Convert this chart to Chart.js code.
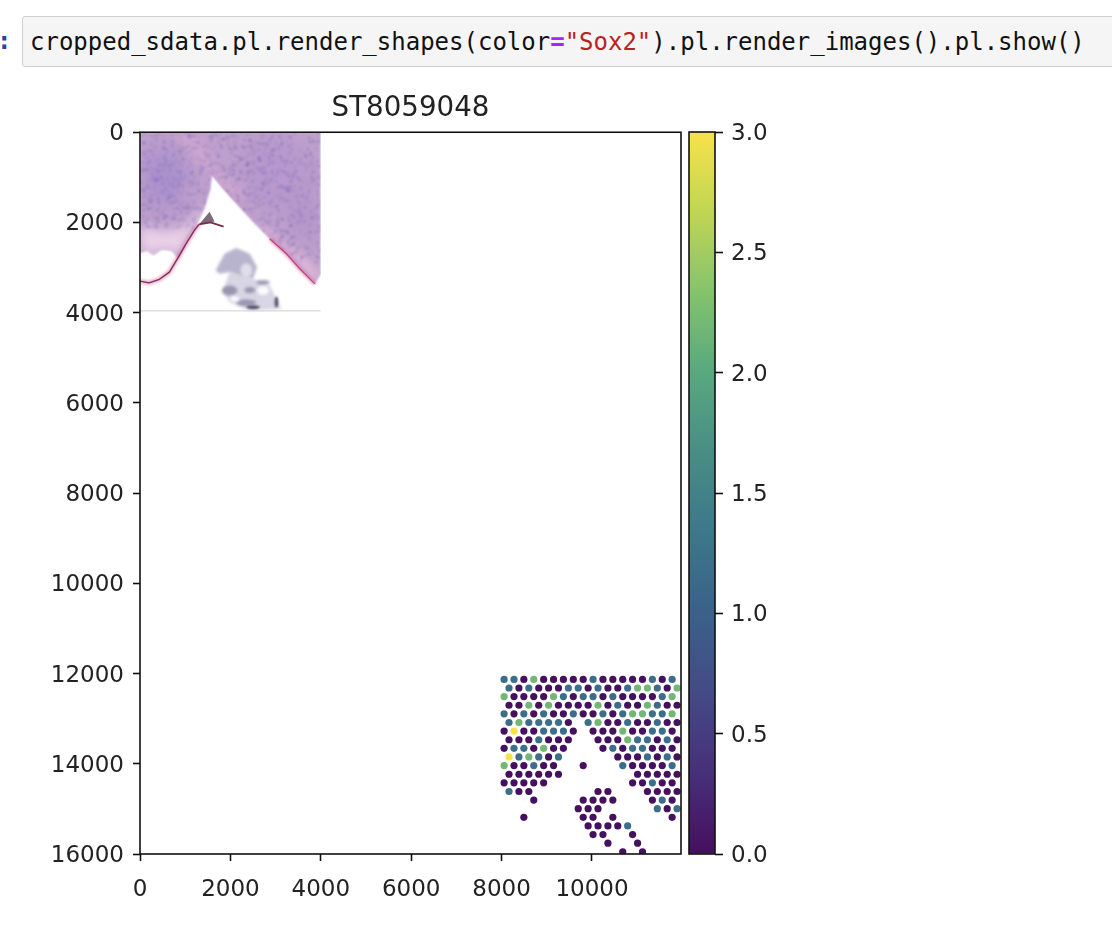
<!DOCTYPE html>
<html><head><meta charset="utf-8">
<script src="https://cdn.jsdelivr.net/npm/chart.js@4"></script>
<style>
html,body{margin:0;padding:0;background:#fff;width:1112px;height:928px;overflow:hidden}
canvas{position:absolute;left:0;top:0;filter:blur(.35px)}
#prompt{position:absolute;left:-3px;top:26px;font:bold 24px/30px "DejaVu Sans Mono",monospace;color:#303f9f}
#cell{position:absolute;left:22px;top:16px;width:1100px;height:51px;box-sizing:border-box;background:#f5f5f5;border:1.5px solid #cfcfcf;border-radius:3px;
font:24px/50px "DejaVu Sans Mono",monospace;color:#111;padding-left:7px;white-space:pre}
#cell .o{color:#aa22ff;font-weight:bold}#cell .s{color:#ba2121}
</style></head><body>
<div id="prompt">:</div>
<div id="cell">cropped_sdata.pl.render_shapes(color<span class="o">=</span><span class="s">"Sox2"</span>).pl.render_images().pl.show()</div>
<canvas id="main" width="1112" height="928"></canvas>
<canvas id="bar" width="1112" height="928"></canvas>
<script>
const chartTitle = "ST8059048";
const xTicks = [0,2000,4000,6000,8000,10000];
const yTicks = [0,2000,4000,6000,8000,10000,12000,14000,16000];
const barTicks = [0,0.5,1,1.5,2,2.5,3];
const viridis = ["#45105e","#472f79","#444a85","#3a6189","#3d778a","#488d85","#58a87f","#84c36c","#c0d553","#f7e24a"];

// spot columns (half-step grid) and rows, in image units
const spotX = [8056,8165,8275,8384,8493,8603,8712,8822,8931,9040,9150,9259,9368,9478,9587,9696,9806,9915,10024,10134,10243,10353,10462,10571,10681,10790,10899,11009,11118,11227,11337,11446,11555,11665,11774,11883];
const spotY = [12129,12320,12511,12702,12893,13085,13276,13467,13658,13849,14040,14232,14423,14614,14805,14996,15187,15378,15570,15761,15952];
const n = null;
const sox2Rows = [
[1.2,1.2,0,2.2,0,0,0,0,0,1.2,0,0,0,0,0,1.2,0,1.2],
[1.2,0,1.2,0,0,0,1.2,1.2,0,1.2,0,0,1.2,2.2,2.2,1.2,0,2.2],
[2.2,0,0,0,0,2.2,1.2,0,1.2,1.2,0,1.2,0,0,0,0,1.2,2.2],
[0,0,2.2,0,2.2,0,0,0,0,2.2,0,1.2,0,0,2.2,1.2,0,0],
[1.2,0,1.2,0,1.2,0,0,1.2,0,0,1.2,0,1.2,2.2,2.2,1.2,1.2,2.2],
[1.2,2.2,1.2,1.2,1.2,1.2,0,n,1.2,2.2,0,0,1.2,0,0,1.2,0,0],
[0,3,0,0,1.2,1.2,1.2,0,n,0,0,0,2.2,0,0,1.2,1.2,0],
[0,0,0,1.2,0,0,0,n,n,0,0,0,2.2,1.2,1.2,0,1.2,0],
[0,1.2,1.2,0,2.2,0,0,n,n,n,0,1.2,0,1.2,1.2,0,0,0],
[3,1.2,2.2,1.2,0,1.2,n,n,n,n,n,0,0,0,1.2,0,1.2,0],
[2.2,0,0,1.2,0,0,n,n,0,n,n,n,1.2,0,0,0,0,1.2],
[0,0,0,0,0,0,n,n,n,n,n,n,n,0,0,0,0,0],
[0,0,0,0,0,n,n,n,n,n,n,n,n,0,0,1.2,0,0],
[1.2,0,0,n,n,n,n,n,n,0,0,n,n,n,0,0,0,0],
[n,n,n,0,n,n,n,n,0,0,0,0,n,n,n,0,1.2,0],
[n,n,n,n,n,n,n,0,0,0,n,n,n,n,n,1.2,0,1.2],
[n,n,0,n,n,n,n,n,0,0,n,0,n,n,n,n,n,0],
[n,n,n,n,n,n,n,n,0,0,0,0,1.2,n,n,n,n,n],
[n,n,n,n,n,n,n,n,n,0,0,n,n,0,n,n,n,n],
[n,n,n,n,n,n,n,n,n,n,0,n,n,0,n,n,n,n],
[n,n,n,n,n,n,n,n,n,n,n,n,0,n,0,n,n,n]
];

// tissue picture outlines, in image units
const tissueOutline = [[0,0],[4000,0],[4000,3138],[3870,3360],[3537,3027],[3241,2694],[2871,2361],[2501,1991],[2131,1584],[1835,1251],[1591,955],[1561,1251],[1428,1695],[1206,2139],[1021,2435],[850,2800],[700,2620],[480,2600],[300,2720],[150,2620],[0,2680]];
const wedgeOutline = [[720,0],[1300,740],[1591,955],[2131,1584],[2300,1500],[2300,1250],[1650,800],[1550,550],[1250,0]];
const paleOutline = [[0,2050],[500,2200],[1000,2100],[1428,1600],[1428,1695],[1206,2139],[1021,2435],[850,2800],[700,2620],[480,2600],[300,2720],[150,2620],[0,2680]];
const rimRightOutline = [[2500,1980],[2871,2361],[3241,2694],[3537,3027],[3870,3360],[4000,3138],[3700,2800],[3250,2480],[2800,2130]];
const edgeLeft = [[0,3300],[200,3340],[430,3260],[650,3100],[830,2800],[1021,2470],[1206,2170],[1310,2040]];
const edgeBranch = [[1310,2040],[1560,2000],[1850,2090]];
const edgeTop = [[1310,2040],[1540,1760],[1650,1980]];
const edgeRight = [[2871,2361],[3241,2694],[3537,3027],[3870,3360]];
const blobLace = [[1983,3100],[2501,3249],[2870,3400],[3130,3915],[2430,3950],[1990,3770],[1840,3550],[1910,3300]];
const blobUpper = [[1672,3064],[1872,2694],[2131,2568],[2427,2694],[2590,2990],[2501,3249],[2205,3175],[1983,3100],[1761,3138]];
const blobPale = [[2353,3064,130,160]];
const blobLumps = [[1983,3508,170,110],[2430,3500,120,70],[2723,3330,150,50],[2350,3780,220,70]];
const blobHoles = [[2094,3693,100,60],[2723,3508,130,100]];
const blobDark = [[2501,3878,150,45],[3019,3767,40,120]];
const imageBase = 3960;

function viridisAt(v){
  const t = Math.max(0,Math.min(1,v/3))*(viridis.length-1);
  const i = Math.min(Math.floor(t),viridis.length-2), f=t-i;
  const h = c=>[1,3,5].map(k=>parseInt(c.substr(k,2),16));
  const a=h(viridis[i]), b=h(viridis[i+1]);
  return `rgb(${a.map((q,k)=>Math.round(q+(b[k]-q)*f)).join(",")})`;
}

const spots = [];
sox2Rows.forEach((row,r)=>row.forEach((v,k)=>{
  if(v!==null) spots.push({x:spotX[2*k+(r%2)],y:spotY[r],v});
}));

const frame = {id:"frame",afterDraw(c){
  const a=c.chartArea,g=c.ctx;g.save();g.strokeStyle="#111";g.lineWidth=1.6;
  g.strokeRect(a.left,a.top,a.width,a.height);g.restore();
}};

const tissue = {id:"tissue",beforeDatasetsDraw(c){
  const g=c.ctx,X=c.scales.x,Y=c.scales.y;
  const px=x=>X.getPixelForValue(x),py=y=>Y.getPixelForValue(y);
  const path=o=>{g.beginPath();o.forEach((p,i)=>i?g.lineTo(px(p[0]),py(p[1])):g.moveTo(px(p[0]),py(p[1])));};
  const ell=(e,col)=>{g.fillStyle=col;g.beginPath();g.ellipse(px(e[0]),py(e[1]),e[2]*.045,e[3]*.045,0,0,7);g.fill();};
  g.save();
  g.beginPath();g.rect(px(0),py(0),px(4000)-px(0),py(4000)-py(0));g.clip();
  g.filter="blur(1.2px)";
  path(tissueOutline);g.closePath();g.fillStyle="#c0a0cd";g.fill();
  g.save();path(tissueOutline);g.closePath();g.clip();
  g.filter="blur(10px)";
  [[550,1000,500,700,"rgba(150,130,205,.5)"],[3000,900,800,800,"rgba(165,135,205,.3)"],[3650,1900,300,500,"rgba(155,130,200,.35)"]].forEach(e=>ell(e,e[4]));
  g.filter="blur(4px)";
  path(wedgeOutline);g.closePath();g.fillStyle="#cca6d0";g.fill();
  g.filter="blur(6px)";
  path(paleOutline);g.closePath();g.fillStyle="#ead2e8";g.fill();
  g.filter="blur(4px)";
  path(rimRightOutline);g.closePath();g.fillStyle="#dcb6d8";g.fill();
  g.filter="blur(.8px)";
  let seed=20240611;
  const next=()=>{seed=(seed*1664525+1013904223)%4294967296;return seed/4294967296;};
  for(let i=0;i<1500;i++){
    const a=next(),b=next(),s=next();
    if(b*2900>2150&&a*4000<1400)continue;
    g.fillStyle=`rgba(100,92,180,${.18+.32*s})`;
    g.beginPath();g.arc(px(a*4000),py(b*2900),.6+.5*s,0,7);g.fill();
  }
  g.restore();
  g.filter="blur(1.4px)";
  g.lineJoin="round";
  path(edgeLeft);g.strokeStyle="rgba(205,95,150,.55)";g.lineWidth=4;g.stroke();
  path(edgeRight);g.strokeStyle="rgba(215,110,160,.6)";g.lineWidth=4;g.stroke();
  g.filter="blur(.7px)";
  path(edgeLeft);g.strokeStyle="#86305f";g.lineWidth=1.4;g.stroke();
  path(edgeRight);g.strokeStyle="#b8447c";g.lineWidth=1.2;g.stroke();
  path(edgeTop);g.closePath();g.fillStyle="rgba(76,58,80,.75)";g.fill();
  path(edgeBranch);g.strokeStyle="#7b2a4c";g.lineWidth=1.8;g.stroke();
  g.filter="blur(1.5px)";
  path(blobLace);g.closePath();g.fillStyle="#d8d5e4";g.fill();
  path(blobUpper);g.closePath();g.fillStyle="#b8b4cd";g.fill();
  blobPale.forEach(e=>ell(e,"#e0ddea"));
  blobLumps.forEach(e=>ell(e,"#9a95ae"));
  blobHoles.forEach(e=>ell(e,"#fbfafc"));
  g.filter="blur(.9px)";
  blobDark.forEach(e=>ell(e,"#57526a"));
  g.filter="none";
  g.strokeStyle="#cfcfcf";g.lineWidth=1;g.beginPath();g.moveTo(px(0),py(imageBase));g.lineTo(px(4000),py(imageBase));g.stroke();
  g.restore();
}};

const tickFont = {family:'"DejaVu Sans"',size:23};
const gridOpts = {drawOnChartArea:false,tickLength:7,tickWidth:1.6,tickColor:"#111"};
const plain = v=>String(v);

new Chart(document.getElementById("main"),{
  type:"scatter",
  data:{datasets:[{label:"Sox2",data:spots,parsing:false,pointRadius:3.6,pointBorderWidth:0,
    pointBackgroundColor:c=>viridisAt(c.raw?c.raw.v:0),pointHoverRadius:3.6}]},
  options:{responsive:false,animation:false,devicePixelRatio:1,
    layout:{padding:{left:0,top:0,right:431,bottom:0}},
    plugins:{legend:{display:false},tooltip:{enabled:false},
      title:{display:true,text:chartTitle,fullSize:false,color:"#222",font:{family:'"DejaVu Sans"',size:27.7,weight:"normal",lineHeight:1.2},padding:{top:92,bottom:7}}},
    scales:{
      x:{type:"linear",position:"bottom",min:0,max:11970,border:{display:false},grid:gridOpts,
        afterBuildTicks:s=>{s.ticks=xTicks.map(v=>({value:v}))},
        afterFit:s=>{s.height=74},
        ticks:{font:tickFont,color:"#222",padding:15,maxRotation:0,autoSkip:false,callback:plain}},
      y:{type:"linear",position:"left",reverse:true,min:0,max:16000,border:{display:false},grid:gridOpts,
        afterBuildTicks:s=>{s.ticks=yTicks.map(v=>({value:v}))},
        afterFit:s=>{s.width=140},
        ticks:{font:tickFont,color:"#222",padding:9,labelOffset:2,autoSkip:false,callback:plain}}
    }},
  plugins:[tissue,frame]
});

new Chart(document.getElementById("bar"),{
  type:"bar",
  data:{labels:["Sox2"],datasets:[{data:[[0,3]],barPercentage:1,categoryPercentage:1,borderWidth:0,
    backgroundColor:c=>{
      const a=c.chart.chartArea;if(!a)return viridis[0];
      const gr=c.chart.ctx.createLinearGradient(0,a.bottom,0,a.top);
      viridis.forEach((col,i)=>gr.addColorStop(i/(viridis.length-1),col));
      return gr;
    }}]},
  options:{responsive:false,animation:false,devicePixelRatio:1,
    layout:{padding:{left:689,top:132,right:337,bottom:74}},
    plugins:{legend:{display:false},tooltip:{enabled:false},title:{display:false}},
    scales:{
      x:{display:false},
      y:{position:"right",min:0,max:3,border:{display:false},grid:{...gridOpts,tickLength:8},
        afterBuildTicks:s=>{s.ticks=barTicks.map(v=>({value:v}))},
        afterFit:s=>{s.width=60},
        ticks:{font:tickFont,color:"#222",padding:8,labelOffset:2,autoSkip:false,callback:v=>v.toFixed(1)}}
    }},
  plugins:[frame]
});
</script>
</body></html>
